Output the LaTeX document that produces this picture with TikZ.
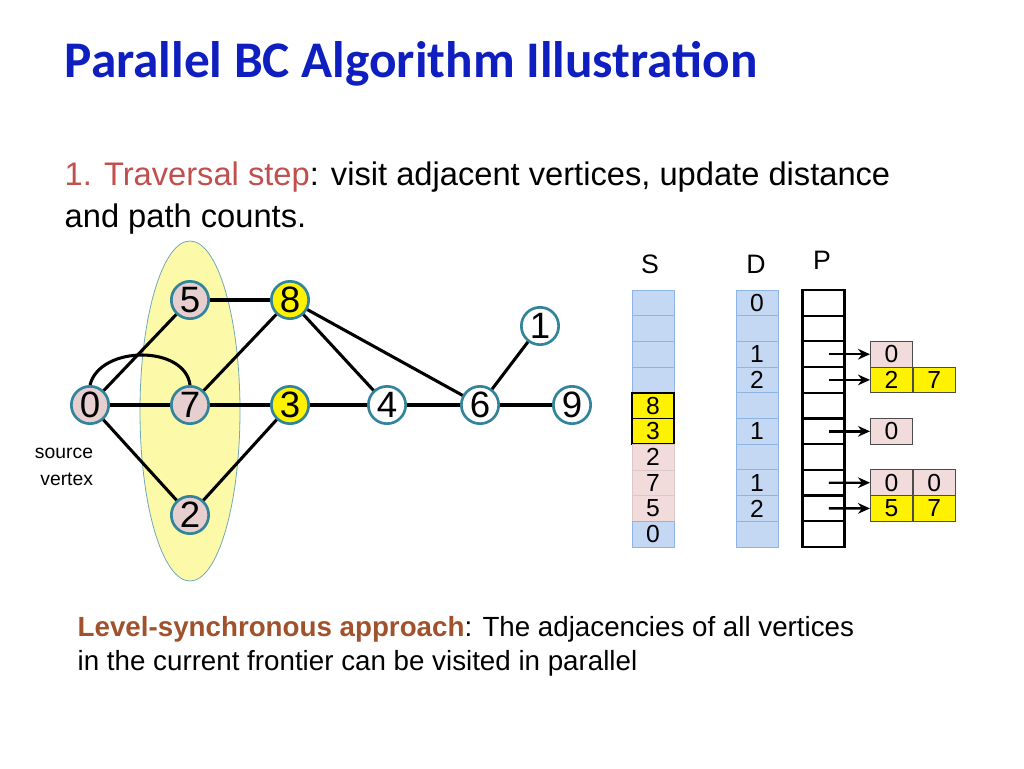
\documentclass[tikz,border=0pt]{standalone}
\usepackage{fontspec}
\setmainfont{Liberation Sans}
\newfontfamily\titlefont{Carlito}
\usetikzlibrary{arrows.meta}
\pgfdeclarelayer{bg}
\pgfdeclarelayer{edges}
\pgfsetlayers{bg,edges,main}
\definecolor{titleblue}{HTML}{0F1FBF}
\definecolor{stepred}{HTML}{C0504D}
\definecolor{levbrown}{HTML}{A0522D}
\definecolor{vring}{HTML}{31849B}
\definecolor{vpink}{HTML}{E8CFCF}
\definecolor{cellblue}{HTML}{C5D8F3}
\definecolor{cellline}{HTML}{8EB4E3}
\definecolor{cellpink}{HTML}{F2DCDB}
\definecolor{frontier}{HTML}{FCF9A8}
\tikzset{
  vertex/.style={circle,draw=vring,line width=2pt,minimum size=28pt,inner sep=0pt,
    font=\fontsize{27.5}{27.5}\selectfont},
  edge/.style={line width=2.3pt},
  cell/.style={rectangle,minimum width=31.5pt,minimum height=19.3pt,inner sep=0pt,
    font=\fontsize{18.5}{18.5}\selectfont},
  bluecell/.style={cell,fill=cellblue,draw=cellline,line width=0.6pt},
  pinkcell/.style={cell,fill=cellpink,draw=cellpink!80!gray,line width=0.4pt},
  yelcell/.style={cell,fill=yellow,draw=black,line width=1.2pt},
  pcell/.style={cell,fill=white,draw=black,line width=1.6pt},
  small/.style={cell,minimum width=31.5pt,draw=black!70,line width=0.6pt},
  ptr/.style={line width=1.8pt,-{Stealth[length=9pt,width=8pt]}}
}
\begin{document}
\begin{tikzpicture}[x=0.75pt,y=-0.75pt]
\useasboundingbox (0,0) rectangle (1024,768);
% title and text
\node[anchor=base west,text=titleblue,font=\titlefont\bfseries\fontsize{38.5}{38.5}\selectfont] (title) at (60,77) {Parallel BC Algorithm Illustration};
\node[anchor=base west,align=left,font=\fontsize{24.5}{31.5}\selectfont] (step) at (60,227)
  {\textcolor{stepred}{1. Traversal step}: visit adjacent vertices, update distance\\and path counts.};
\node[anchor=base west,align=left,font=\fontsize{20.8}{25.5}\selectfont] (level) at (73,670)
  {\textcolor{levbrown}{\bfseries Level-synchronous approach}: The adjacencies of all vertices\\in the current frontier can be visited in parallel};

% frontier
\begin{pgfonlayer}{bg}
\fill[frontier,draw=vring!70,line width=0.6pt] (190,411) ellipse [x radius=50,y radius=170];
\end{pgfonlayer}

% vertices
\node[vertex,fill=vpink] (v0) at (90,405) {0};
\node[vertex,fill=vpink] (v7) at (190,405) {7};
\node[vertex,fill=yellow] (v3) at (290,405) {3};
\node[vertex,fill=white] (v4) at (387,405) {4};
\node[vertex,fill=white] (v6) at (480,405) {6};
\node[vertex,fill=white] (v9) at (572,405) {9};
\node[vertex,fill=vpink] (v5) at (190,300) {5};
\node[vertex,fill=yellow] (v8) at (290,300) {8};
\node[vertex,fill=white] (v1) at (540,326) {1};
\node[vertex,fill=vpink] (v2) at (190,515) {2};
\node[align=right,font=\fontsize{14.5}{20}\selectfont] (src) at (64,467) {source\\vertex};

% edges
\begin{pgfonlayer}{edges}
\draw[edge] (v0.center) -- (v5.center);
\draw[edge] (v0.center) -- (v7.center);
\draw[edge] (v0.center) -- (v2.center);
\draw[edge] (v0.north) .. controls (100,345) and (185,345) .. (v7.north);
\draw[edge] (v5.center) -- (v8.center);
\draw[edge] (v7.center) -- (v8.center);
\draw[edge] (v7.center) -- (v3.center);
\draw[edge] (v2.center) -- (v3.center);
\draw[edge] (v8.center) -- (v4.center);
\draw[edge] (v8.center) -- (v6.center);
\draw[edge] (v3.center) -- (v4.center);
\draw[edge] (v4.center) -- (v6.center);
\draw[edge] (v6.center) -- (v1.center);
\draw[edge] (v6.center) -- (v9.center);
\end{pgfonlayer}

% arrays
\node[font=\fontsize{20}{20}\selectfont] (lblS) at (650,264) {S};
\node[font=\fontsize{20}{20}\selectfont] (lblD) at (756,264) {D};
\node[font=\fontsize{20}{20}\selectfont] (lblP) at (822,260) {P};
\foreach \i/\s/\st in {0//bluecell,1//bluecell,2//bluecell,3//bluecell,4/8/yelcell,
  5/3/yelcell,6/2/pinkcell,7/7/pinkcell,8/5/pinkcell,9/0/bluecell}
  \node[\st] (s\i) at (653,{302.8+25.7*\i}) {\s};
\foreach \i/\d in {0/0,1/,2/1,3/2,4/,5/1,6/,7/1,8/2,9/}
  \node[bluecell] (d\i) at (757,{302.8+25.7*\i}) {\d};
\foreach \i in {0,...,9}
  \node[pcell] (p\i) at (823.5,{302.8+25.7*\i}) {};

% predecessor lists
\node[small,fill=cellpink,anchor=west] (q2a) at (870,354.2) {0};
\node[small,fill=yellow,anchor=west] (q3a) at (870,379.9) {2};
\node[small,fill=yellow,anchor=west] (q3b) at (q3a.east) {7};
\node[small,fill=cellpink,anchor=west] (q5a) at (870,431.3) {0};
\node[small,fill=cellpink,anchor=west] (q7a) at (870,482.7) {0};
\node[small,fill=cellpink,anchor=west] (q7b) at (q7a.east) {0};
\node[small,fill=yellow,anchor=west] (q8a) at (870,508.4) {5};
\node[small,fill=yellow,anchor=west] (q8b) at (q8a.east) {7};
\foreach \i/\t in {2/q2a,3/q3a,5/q5a,7/q7a,8/q8a}
  \draw[ptr] ([xshift=4pt]p\i.center) -- (\t.west);
\end{tikzpicture}
\end{document}
